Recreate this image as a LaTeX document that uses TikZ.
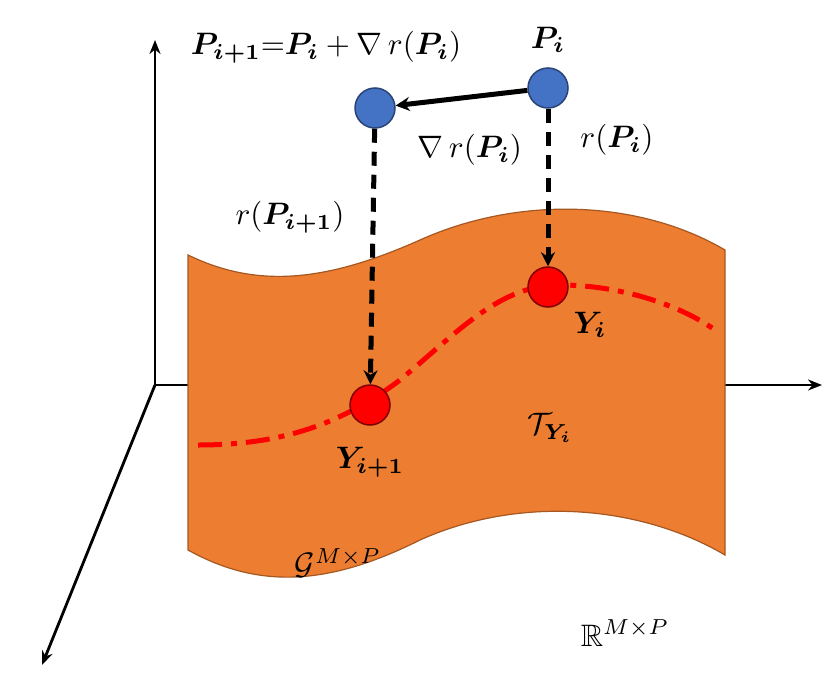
\documentclass[tikz,border=0pt]{standalone}
\usepackage{amsmath,amssymb,bm}
\usetikzlibrary{arrows.meta}
\definecolor{surf}{HTML}{ED7D31}
\definecolor{bluec}{HTML}{4472C4}
\tikzset{
  ax/.style={line width=2.8pt,-{Stealth[length=14pt,width=11pt]}},
  bdot/.style={circle,fill=bluec,draw=bluec!60!black,line width=1.5pt,minimum size=40pt,inner sep=0},
  rdot/.style={circle,fill=red,draw=red!50!black,line width=1.5pt,minimum size=40pt,inner sep=0},
  dsh/.style={line width=5pt,dash pattern=on 14pt off 9pt,-{Stealth[length=14pt,width=14pt]}},
  lbl/.style={scale=3.1}
}
\begin{document}
\begin{tikzpicture}[x=1pt,y=-1pt]
\useasboundingbox (0,0) rectangle (834,680);
\fill[white] (0,0) rectangle (834,680);
% axes
\coordinate (O) at (155,385);
\coordinate (up) at (155,40);
\coordinate (rt) at (822,385);
\coordinate (dl) at (42,665);
\draw[ax] (O) -- (up);
\draw[ax] (O) -- (rt);
\draw[ax] (O) -- (dl);
% surface
\fill[surf,draw=surf!70!black,line width=1.2pt] (188,255) .. controls (260,290) and (330,280) .. (420,240)
  .. controls (520,195) and (640,200) .. (725,250) -- (725,555)
  .. controls (640,505) and (520,495) .. (420,540)
  .. controls (330,585) and (260,590) .. (188,550) -- cycle;
% red dash-dot path
\draw[red,line width=5pt,dash pattern=on 24pt off 9pt on 6pt off 9pt]
  (198,445) .. controls (280,445) and (340,425) .. (400,380)
  .. controls (460,330) and (500,285) .. (560,285)
  .. controls (620,285) and (680,305) .. (715,330);
% points
\node[bdot] (Pi) at (548,88) {};
\node[bdot] (Pn) at (375,108) {};
\node[rdot] (Yi) at (548,287) {};
\node[rdot] (Yn) at (370,405) {};
\draw[line width=5pt,-{Stealth[length=14pt,width=14pt]}] (Pi) -- (Pn);
\draw[dsh] (Pi) -- (Yi);
\draw[dsh] (Pn) -- (Yn);
% labels
\node[lbl] (f) at (326,47) {$\bm{P_{i+1}}\text{=}\bm{P_i}+\nabla\, r(\bm{P_i})$};
\node[lbl] (lp) at (548,40) {$\bm{P_i}$};
\node[lbl] (lg) at (470,150) {$\nabla\, r(\bm{P_i})$};
\node[lbl] (lr) at (617,140) {$r(\bm{P_i})$};
\node[lbl] (lr2) at (290,217) {$r(\bm{P_{i+1}})$};
\node[lbl] (ly) at (590,325) {$\bm{Y_i}$};
\node[lbl] (ly2) at (370,462) {$\bm{Y_{i+1}}$};
\node[lbl] (lt) at (550,428) {$\mathcal{T}_{\bm{Y_i}}$};
\node[lbl] (lgm) at (338,563) {$\mathcal{G}^{M\times P}$};
\node[lbl] (lR) at (625,633) {$\mathbb{R}^{M\times P}$};
\end{tikzpicture}
\end{document}
